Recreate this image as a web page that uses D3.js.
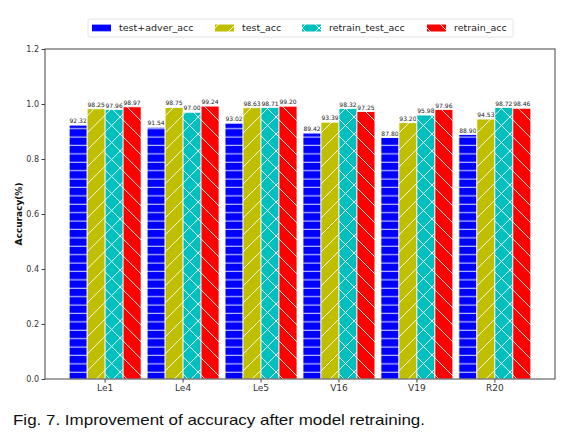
<!DOCTYPE html>
<html>
<head>
<meta charset="utf-8">
<script src="https://cdn.jsdelivr.net/npm/d3@7"></script>
<style>
	body { margin: 0; background: #fff; }
	svg { display: block; }
</style>
</head>
<body>
<svg id="chart"></svg>
<script>
let W = 569
let H = 432
let margin = ({ top: 49, right: 14, bottom: 53, left: 45 })
let width = W - margin.left - margin.right
let height = H - margin.top - margin.bottom

// data
let models = ['Le1', 'Le4', 'Le5', 'V16', 'V19', 'R20']
let seriesNames = ['test+adver_acc', 'test_acc', 'retrain_test_acc', 'retrain_acc']
let testAdverAcc = [0.9232, 0.9154, 0.9302, 0.8942, 0.8780, 0.8890]
let testAcc = [0.9825, 0.9875, 0.9863, 0.9339, 0.9320, 0.9453]
let retrainTestAcc = [0.9796, 0.9700, 0.9871, 0.9832, 0.9598, 0.9872]
let retrainAcc = [0.9897, 0.9924, 0.9920, 0.9725, 0.9796, 0.9846]
let yTicks = [0.0, 0.2, 0.4, 0.6, 0.8, 1.0, 1.2]
let caption = 'Fig. 7. Improvement of accuracy after model retraining.'

let seriesValues = [testAdverAcc, testAcc, retrainTestAcc, retrainAcc]
let colors = ['#0000ff', '#bfbf00', '#00bfbf', '#ff0000']
let hatches = ['horiz', 'fwd', 'cross', 'back']

let svg = d3.select('#chart')
	.attr('width', W)
	.attr('height', H)
	.attr('viewBox', `0 0 ${W} ${H}`)

// hatch patterns
let defs = svg.append('defs')
function addPattern(id, color, kind) {
	let s = kind === 'horiz' ? 8.4 : 17
	let p = defs.append('pattern')
		.attr('id', id)
		.attr('patternUnits', 'userSpaceOnUse')
		.attr('width', s)
		.attr('height', s)
	p.append('rect').attr('width', s).attr('height', s).attr('fill', color)
	let line = (x1, y1, x2, y2) => p.append('line')
		.attr('x1', x1).attr('y1', y1).attr('x2', x2).attr('y2', y2)
		.attr('stroke', '#fff').attr('stroke-width', 0.9)
	if (kind === 'horiz') {
		line(0, 4, s, 4)
	}
	if (kind === 'fwd' || kind === 'cross') {
		line(-1, s + 1, s + 1, -1)
		line(-1, 1, 1, -1)
		line(s - 1, s + 1, s + 1, s - 1)
	}
	if (kind === 'back' || kind === 'cross') {
		line(-1, -1, s + 1, s + 1)
		line(s - 1, -1, s + 1, 1)
		line(-1, s - 1, 1, s + 1)
	}
}
seriesNames.forEach((n, i) => addPattern(`hatch-${i}`, colors[i], hatches[i]))

let g = svg.append('g')
	.attr('transform', `translate(${margin.left},${margin.top})`)

let x0 = d3.scaleBand()
	.domain(models)
	.range([0, width])
	.paddingInner(0.077)
	.paddingOuter(0.31)

let x1 = d3.scaleBand()
	.domain(seriesNames)
	.range([0, x0.bandwidth()])

let y = d3.scaleLinear()
	.domain([0, 1.2])
	.range([height, 0])

// bars
let groups = g.append('g')
	.selectAll('g')
	.data(models)
	.join('g')
	.attr('transform', d => `translate(${x0(d)},0)`)

let cells = groups.selectAll('g')
	.data((m, mi) => seriesNames.map((s, si) => ({ model: m, series: s, si: si, value: seriesValues[si][mi] })))
	.join('g')

cells.append('rect')
	.attr('x', d => x1(d.series))
	.attr('y', d => y(d.value))
	.attr('width', x1.bandwidth())
	.attr('height', d => y(0) - y(d.value))
	.attr('fill', d => `url(#hatch-${d.si})`)
	.attr('stroke', '#fff')
	.attr('stroke-width', 0.8)

cells.append('text')
	.attr('x', d => x1(d.series) + x1.bandwidth() / 2)
	.attr('y', d => y(d.value) - 2)
	.attr('text-anchor', 'middle')
	.style('font', '6px "DejaVu Sans"')
	.attr('fill', '#222')
	.text(d => (d.value * 100).toFixed(2))

// axes
let yAxis = g.append('g')
	.call(d3.axisLeft(y).tickValues(yTicks).tickFormat(d3.format('.1f')).tickSize(3.5).tickSizeOuter(0))
yAxis.select('.domain').remove()
yAxis.selectAll('text')
	.style('font', '8px "DejaVu Sans"')
	.attr('fill', '#333')
	.attr('x', -6)
yAxis.selectAll('line').attr('stroke', '#444')

let xAxis = g.append('g')
	.attr('transform', `translate(0,${height})`)
	.call(d3.axisBottom(x0).tickSize(3.5).tickSizeOuter(0))
xAxis.select('.domain').remove()
xAxis.selectAll('text')
	.style('font', '9px "DejaVu Sans"')
	.attr('fill', '#333')
	.attr('y', 6)
xAxis.selectAll('line').attr('stroke', '#444')

// frame
g.append('rect')
	.attr('width', width)
	.attr('height', height)
	.attr('fill', 'none')
	.attr('stroke', '#444')
	.attr('stroke-width', 1)

// y label
g.append('text')
	.attr('transform', `translate(${19 - margin.left},${height / 2}) rotate(-90)`)
	.attr('text-anchor', 'middle')
	.attr('dy', '0.35em')
	.style('font', 'bold 9px "DejaVu Sans"')
	.attr('fill', '#111')
	.text('Accuracy(%)')

// legend
let lg = svg.append('g')
lg.append('rect')
	.attr('x', 88)
	.attr('y', 19)
	.attr('width', 425)
	.attr('height', 18)
	.attr('rx', 2)
	.attr('fill', '#fff')
	.attr('stroke', '#ddd')
	.attr('stroke-width', 0.8)
let legendX = [92, 215, 302, 427]
let items = lg.selectAll('g.item')
	.data(seriesNames)
	.join('g')
	.attr('class', 'item')
	.attr('transform', (d, i) => `translate(${legendX[i]},28)`)
items.append('rect')
	.attr('x', 0)
	.attr('y', -3.5)
	.attr('width', 19)
	.attr('height', 7)
	.attr('fill', (d, i) => `url(#hatch-${i})`)
items.append('text')
	.attr('x', 27)
	.attr('dy', '0.35em')
	.style('font', '9.5px "DejaVu Sans"')
	.attr('fill', '#222')
	.text(d => d)

// caption
svg.append('text')
	.attr('x', 13)
	.attr('y', 425)
	.attr('textLength', 412)
	.attr('lengthAdjust', 'spacingAndGlyphs')
	.style('font', '15px "Liberation Sans", Arial, sans-serif')
	.attr('fill', '#111')
	.text(caption)
</script>
</body>
</html>
